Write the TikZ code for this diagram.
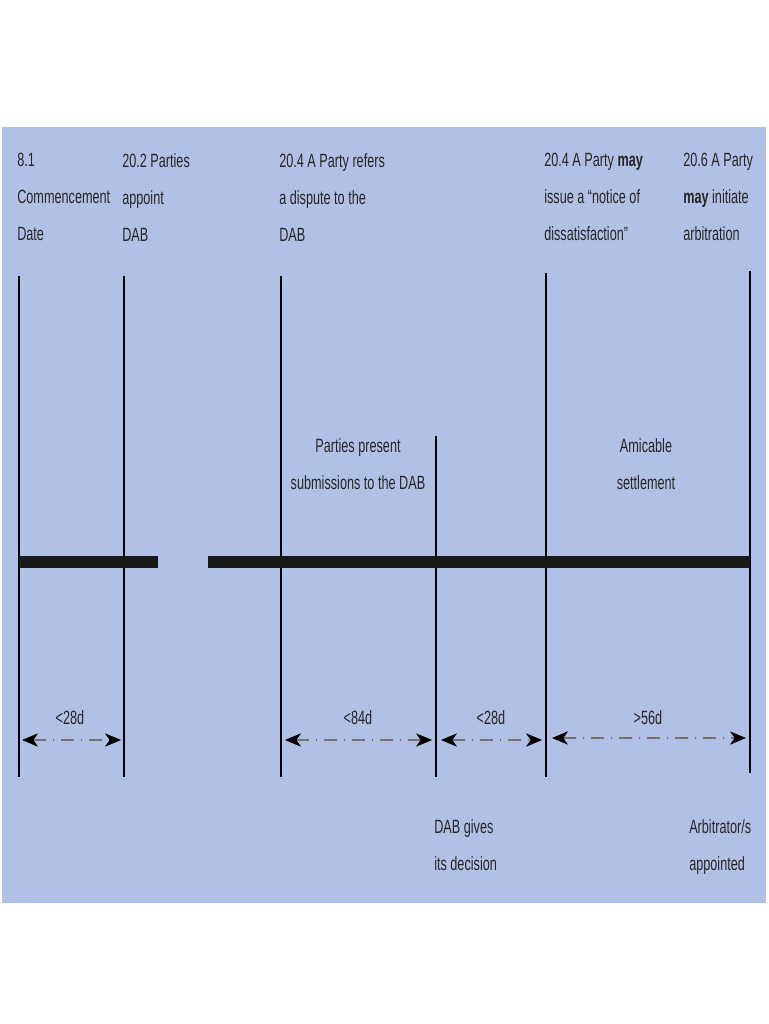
\documentclass[tikz,border=0pt]{standalone}
\usepackage{fontspec}
\setmainfont[FakeStretch=0.66]{Liberation Sans}
\usetikzlibrary{arrows.meta,calc}

\definecolor{panelblue}{RGB}{177,193,229}

\begin{document}
\begin{tikzpicture}[x=0.75pt,y=-0.75pt,
  txt/.style={inner sep=0pt,text=black!85,font=\fontsize{14.4}{27.75}\selectfont},
  stage/.style={line width=2.2pt},
  span/.style={{Stealth[length=12pt,width=10pt,inset=3.5pt,color=black]}-{Stealth[length=12pt,width=10pt,inset=3.5pt,color=black]},
    line width=0.8pt,draw=black!55,dash pattern=on 10pt off 5pt on 1pt off 5pt}]

\useasboundingbox (0,0) rectangle (768,1024);
\fill[white] (0,0) rectangle (768,1024);
\fill[panelblue] (2,127) rectangle (766,903);

\def\ya{276}
\def\yb{777}
\def\yarr{740}
\def\ybar{562}

\coordinate (cd-t) at (19,\ya);   \coordinate (cd-b) at (19,\yb);
\coordinate (ap-t) at (124,\ya);  \coordinate (ap-b) at (124,\yb);
\coordinate (rf-t) at (281,\ya);  \coordinate (rf-b) at (281,\yb);
\coordinate (dc-t) at (436,436);  \coordinate (dc-b) at (436,\yb);
\coordinate (nd-t) at (546,273);  \coordinate (nd-b) at (546,\yb);
\coordinate (ar-t) at (750,271);  \coordinate (ar-b) at (750,773);

\draw[stage] (cd-t)--(cd-b);
\draw[stage] (ap-t)--(ap-b);
\draw[stage] (rf-t)--(rf-b);
\draw[stage] (dc-t)--(dc-b);
\draw[stage] (nd-t)--(nd-b);
\draw[stage] (ar-t)--(ar-b);

\coordinate (bar1-l) at (19,\ybar);  \coordinate (bar1-r) at (158,\ybar);
\coordinate (bar2-l) at (208,\ybar); \coordinate (bar2-r) at (750,\ybar);
\draw[line width=9pt,black!90] (bar1-l)--(bar1-r);
\draw[line width=9pt,black!90] (bar2-l)--(bar2-r);

\node[txt,anchor=north west,align=left] (commence) at (17,153) {8.1\\Commencement\\Date};
\node[txt,anchor=north west,align=left] (appoint) at (122,153) {20.2 Parties\\appoint\\DAB};
\node[txt,anchor=north west,align=left] (refer) at (279,153) {20.4 A Party refers\\a dispute to the\\DAB};
\node[txt,anchor=north west,align=left] (notice) at (544,153) {20.4 A Party \textbf{may}\\issue a “notice of\\dissatisfaction”};
\node[txt,anchor=north west,align=left] (initiate) at (683,153) {20.6 A Party\\\textbf{may} initiate\\arbitration};

\node[txt,anchor=north,align=center] (submit) at (358,438) {Parties present\\submissions to the DAB};
\node[txt,anchor=north,align=center] (amicable) at (646,438) {Amicable\\settlement};

\coordinate (s1-l) at (22,\yarr);  \coordinate (s1-r) at (121,\yarr);
\coordinate (s2-l) at (285,\yarr); \coordinate (s2-r) at (432,\yarr);
\coordinate (s3-l) at (441,\yarr); \coordinate (s3-r) at (542,\yarr);
\coordinate (s4-l) at (552,738);   \coordinate (s4-r) at (746,738);

\draw[span] (s1-l)--(s1-r);
\draw[span] (s2-l)--(s2-r);
\draw[span] (s3-l)--(s3-r);
\draw[span] (s4-l)--(s4-r);

\node[txt] (d28a) at (70,718) {<28d};
\node[txt] (d84) at (358,718) {<84d};
\node[txt] (d28b) at (491,718) {<28d};
\node[txt] (d56) at (648,718) {>56d};

\node[txt,anchor=north west,align=left] (decision) at (434,819) {DAB gives\\its decision};
\node[txt,anchor=north west,align=left] (arbitrators) at (689,819) {Arbitrator/s\\appointed};

\end{tikzpicture}
\end{document}
